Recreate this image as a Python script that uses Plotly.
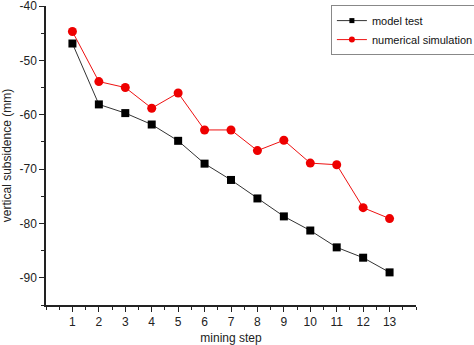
import plotly.graph_objects as go

steps = list(range(1, 14))
model_test = [-46.9, -58.1, -59.7, -61.8, -64.8, -69.0, -72.0, -75.4, -78.7, -81.3, -84.4, -86.3, -89.0]
numerical_sim = [-44.7, -53.9, -55.0, -58.8, -56.0, -62.8, -62.8, -66.6, -64.7, -68.9, -69.2, -77.1, -79.1]
x_ticks = list(range(1, 14))
y_ticks = [-40, -50, -60, -70, -80, -90]
series_names = ["model test", "numerical simulation"]

black_line = "#333333"
red_line = "#ee1111"

fig = go.Figure()
fig.add_trace(go.Scatter(
    x=steps, y=model_test, mode="lines+markers", name=series_names[0],
    line=dict(color=black_line, width=1),
    marker=dict(symbol="square", size=8, color="black"),
    showlegend=False,
))
fig.add_trace(go.Scatter(
    x=steps, y=numerical_sim, mode="lines+markers", name=series_names[1],
    line=dict(color=red_line, width=1),
    marker=dict(symbol="circle", size=9, color="#ee0000"),
    showlegend=False,
))
# legend entries with smaller symbols, as in the reference
fig.add_trace(go.Scatter(
    x=[None], y=[None], mode="lines+markers", name=series_names[0],
    line=dict(color=black_line, width=1),
    marker=dict(symbol="square", size=5, color="black"),
))
fig.add_trace(go.Scatter(
    x=[None], y=[None], mode="lines+markers", name=series_names[1],
    line=dict(color=red_line, width=1),
    marker=dict(symbol="circle", size=6, color="#ee0000"),
))

font = "Liberation Sans, Arial, sans-serif"
fig.update_layout(
    width=474, height=345,
    margin=dict(l=46, r=58, t=6, b=40, autoexpand=False),
    paper_bgcolor="white", plot_bgcolor="white",
    font=dict(family=font, size=12, color="#222222"),
    showlegend=True,
    legend=dict(
        x=0.77, y=1.003, xanchor="left", yanchor="top",
        bordercolor="#888888", borderwidth=1, bgcolor="white",
        font=dict(size=11, color="#111111"),
        tracegroupgap=0, itemwidth=30,
    ),
    xaxis=dict(
        range=[0, 14], tickmode="array", tickvals=x_ticks,
        ticktext=[str(v) for v in x_ticks],
        showline=True, linecolor="#222222", linewidth=1.5,
        ticks="outside", ticklen=5, tickwidth=1.2, tickcolor="#222222",
        showgrid=False, zeroline=False, automargin=False,
        ticklabeloverflow="allow",
        minor=dict(tickvals=[v + 0.5 for v in range(0, 14)] + [0, 14], ticks="outside", ticklen=3, tickcolor="#222222"),
        title=dict(text="mining step", font=dict(size=12)),
        tickfont=dict(size=12),
    ),
    yaxis=dict(
        range=[-95, -40], tickmode="array", tickvals=y_ticks,
        ticktext=[str(v) for v in y_ticks],
        showline=True, linecolor="#222222", linewidth=1.5,
        ticks="outside", ticklen=5, tickwidth=1.2, tickcolor="#222222",
        showgrid=False, zeroline=False, automargin=False,
        ticklabeloverflow="allow",
        minor=dict(tickvals=[-45, -55, -65, -75, -85, -95], ticks="outside", ticklen=3, tickcolor="#222222"),
        title=dict(text="vertical subsidence (mm)", font=dict(size=12)),
        tickfont=dict(size=12),
    ),
)

fig.write_html("out.html")
